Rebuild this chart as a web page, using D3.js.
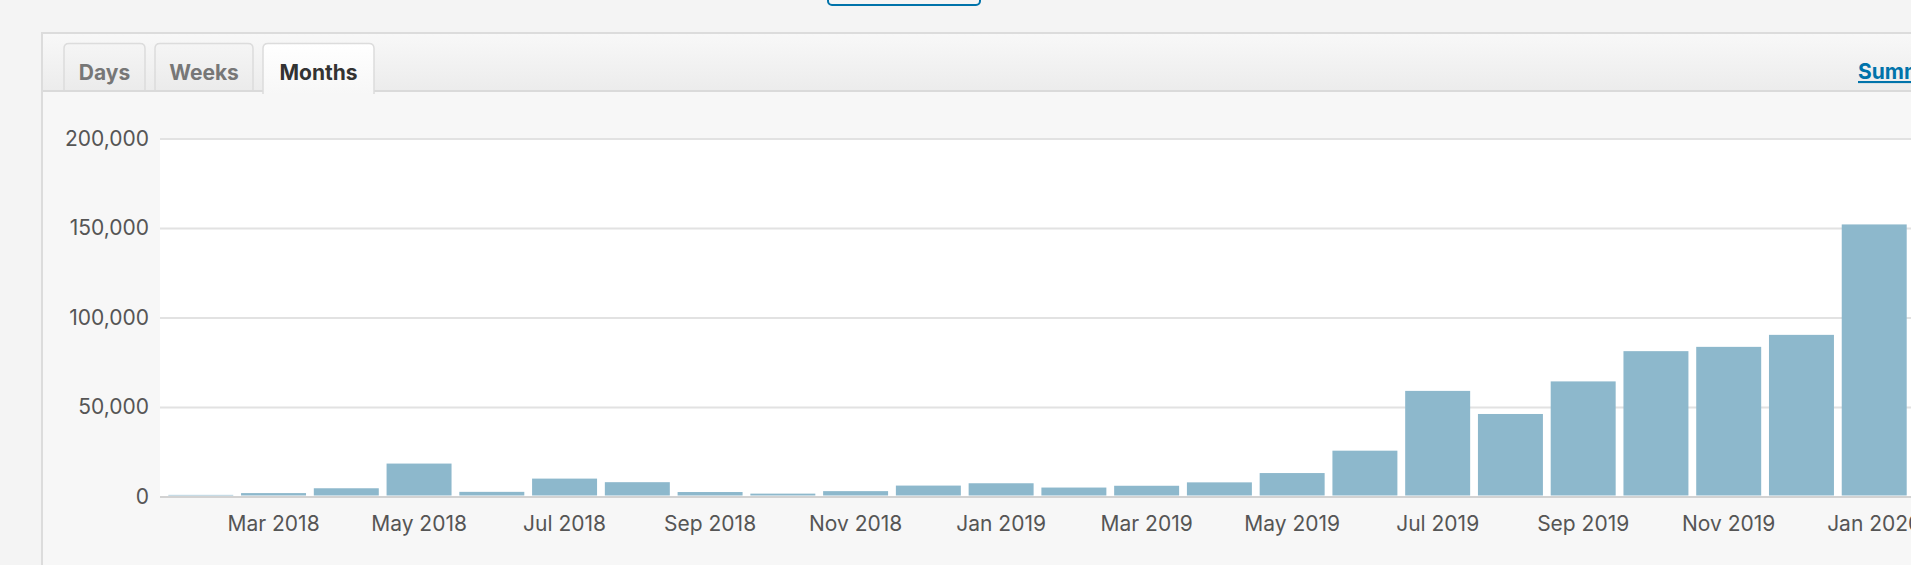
<!DOCTYPE html>
<html>
<head>
<meta charset="utf-8">
<script src="https://cdn.jsdelivr.net/npm/d3@7"></script>
<style>
  html, body { margin: 0; padding: 0; background: #f4f4f4; overflow: hidden; }
  svg { display: block; font-family: Inter, "Liberation Sans", "DejaVu Sans", sans-serif; }
</style>
</head>
<body>
<svg id="chart" width="1911" height="565"></svg>
<script>
// months shown on the x axis (one bar per month)
const months = [
  "Feb 2018", "Mar 2018", "Apr 2018", "May 2018", "Jun 2018", "Jul 2018",
  "Aug 2018", "Sep 2018", "Oct 2018", "Nov 2018", "Dec 2018", "Jan 2019",
  "Feb 2019", "Mar 2019", "Apr 2019", "May 2019", "Jun 2019", "Jul 2019",
  "Aug 2019", "Sep 2019", "Oct 2019", "Nov 2019", "Dec 2019", "Jan 2020"
];
// views per month
const views = [
  900, 1900, 4600, 18400, 2600, 10000,
  8000, 2500, 1600, 3000, 6100, 7400,
  5000, 6000, 7900, 13100, 25600, 59000,
  46100, 64300, 81200, 83600, 90300, 152000
];
// every other month gets a label
const tickLabels = [
  "Mar 2018", "May 2018", "Jul 2018", "Sep 2018", "Nov 2018", "Jan 2019",
  "Mar 2019", "May 2019", "Jul 2019", "Sep 2019", "Nov 2019", "Jan 2020"
];
const yTicks = [0, 50000, 100000, 150000, 200000];
const tabs = ["Days", "Weeks", "Months"];
const activeTab = "Months";
const linkText = "Summary";

// layout of the page (not data)
const W = 1911, H = 565;
const plot = { left: 160, right: 1915, top: 138.5, bottom: 496.5 };
const tabBoxes = [[64, 145], [155, 253], [263, 374]];

const svg = d3.select("#chart");
const defs = svg.append("defs");

const barGrad = defs.append("linearGradient").attr("id", "tabbar").attr("x1", 0).attr("x2", 0).attr("y1", 0).attr("y2", 1);
barGrad.append("stop").attr("offset", "0%").attr("stop-color", "#f8f8f8");
barGrad.append("stop").attr("offset", "100%").attr("stop-color", "#ececec");

const tabGrad = defs.append("linearGradient").attr("id", "tab").attr("x1", 0).attr("x2", 0).attr("y1", 0).attr("y2", 1);
tabGrad.append("stop").attr("offset", "0%").attr("stop-color", "#f5f5f5");
tabGrad.append("stop").attr("offset", "100%").attr("stop-color", "#ebebeb");

const activeGrad = defs.append("linearGradient").attr("id", "tabActive").attr("x1", 0).attr("x2", 0).attr("y1", 0).attr("y2", 1);
activeGrad.append("stop").attr("offset", "0%").attr("stop-color", "#ffffff");
activeGrad.append("stop").attr("offset", "100%").attr("stop-color", "#f7f7f7");

// button edge peeking in at the top
svg.append("rect")
  .attr("x", 828).attr("y", -12).attr("width", 152).attr("height", 17).attr("rx", 4)
  .attr("fill", "#f5f5f5").attr("stroke", "#0073aa").attr("stroke-width", 2);

// panel
svg.append("rect")
  .attr("x", 42).attr("y", 33).attr("width", W).attr("height", H)
  .attr("fill", "#f7f7f7").attr("stroke", "#dcdcdc").attr("stroke-width", 2);

svg.append("rect")
  .attr("x", 43).attr("y", 34).attr("width", W).attr("height", 56)
  .attr("fill", "url(#tabbar)");
svg.append("line")
  .attr("x1", 43).attr("x2", W).attr("y1", 91).attr("y2", 91)
  .attr("stroke", "#dadada").attr("stroke-width", 2);

// tabs
function tabPath(x0, x1, y0, y1, r) {
  return `M${x0},${y1}V${y0 + r}Q${x0},${y0} ${x0 + r},${y0}H${x1 - r}Q${x1},${y0} ${x1},${y0 + r}V${y1}`;
}
const tabG = svg.selectAll(".tab")
  .data(tabs)
  .enter()
  .append("g")
  .attr("class", "tab");

tabG.append("path")
  .attr("d", (d, i) => {
    const active = d === activeTab;
    return tabPath(tabBoxes[i][0], tabBoxes[i][1], 43.5, active ? 94 : 90, 5);
  })
  .attr("fill", d => d === activeTab ? "url(#tabActive)" : "url(#tab)")
  .attr("stroke", "#dcdcdc")
  .attr("stroke-width", 1.5);

tabG.append("text")
  .attr("x", (d, i) => (tabBoxes[i][0] + tabBoxes[i][1]) / 2)
  .attr("y", 80)
  .attr("text-anchor", "middle")
  .attr("font-size", 21)
  .attr("font-weight", "bold")
  .attr("fill", d => d === activeTab ? "#333" : "#777")
  .text(d => d);

svg.append("text")
  .attr("x", 1858).attr("y", 79)
  .attr("font-size", 21)
  .attr("font-weight", "bold")
  .attr("fill", "#0073aa")
  .attr("text-decoration", "underline")
  .text(linkText);

// scales
const x = d3.scaleBand()
  .domain(months)
  .range([plot.left, plot.right])
  .paddingInner(0.107)
  .paddingOuter(0.114);

const y = d3.scaleLinear()
  .domain([0, 200000])
  .range([plot.bottom, plot.top]);

// white plot background
svg.append("rect")
  .attr("x", plot.left).attr("y", plot.top)
  .attr("width", W - plot.left).attr("height", plot.bottom - plot.top)
  .attr("fill", "#ffffff");

// gridlines
const grid = svg.append("g")
  .attr("transform", `translate(${plot.left},0)`)
  .call(d3.axisLeft(y).tickValues(yTicks).tickSize(-(W - plot.left)).tickFormat(""));
grid.select(".domain").remove();
grid.selectAll("line")
  .attr("stroke", d => d === 0 ? "#d2d2d2" : "#e2e2e2")
  .attr("stroke-width", 2);

// bars
svg.selectAll(".bar")
  .data(months)
  .enter()
  .append("rect")
  .attr("class", "bar")
  .attr("x", d => x(d))
  .attr("y", (d, i) => y(views[i]))
  .attr("width", x.bandwidth())
  .attr("height", (d, i) => y(0) - y(views[i]) - 1)
  .attr("fill", "#8db8cc");

// y axis labels
const yAxis = svg.append("g")
  .attr("transform", `translate(${plot.left},0)`)
  .call(d3.axisLeft(y).tickValues(yTicks).tickSize(0).tickPadding(11).tickFormat(d3.format(",")));
yAxis.select(".domain").remove();
yAxis.selectAll("text")
  .attr("font-family", "Inter, 'Liberation Sans', sans-serif")
  .attr("font-size", 21)
  .attr("fill", "#555");

// x axis labels
const xAxis = svg.append("g")
  .attr("transform", `translate(0,${plot.bottom})`)
  .call(d3.axisBottom(x).tickValues(tickLabels).tickSize(0).tickPadding(20));
xAxis.select(".domain").remove();
xAxis.selectAll("text")
  .attr("font-family", "Inter, 'Liberation Sans', sans-serif")
  .attr("font-size", 21)
  .attr("fill", "#555");
</script>
</body>
</html>
